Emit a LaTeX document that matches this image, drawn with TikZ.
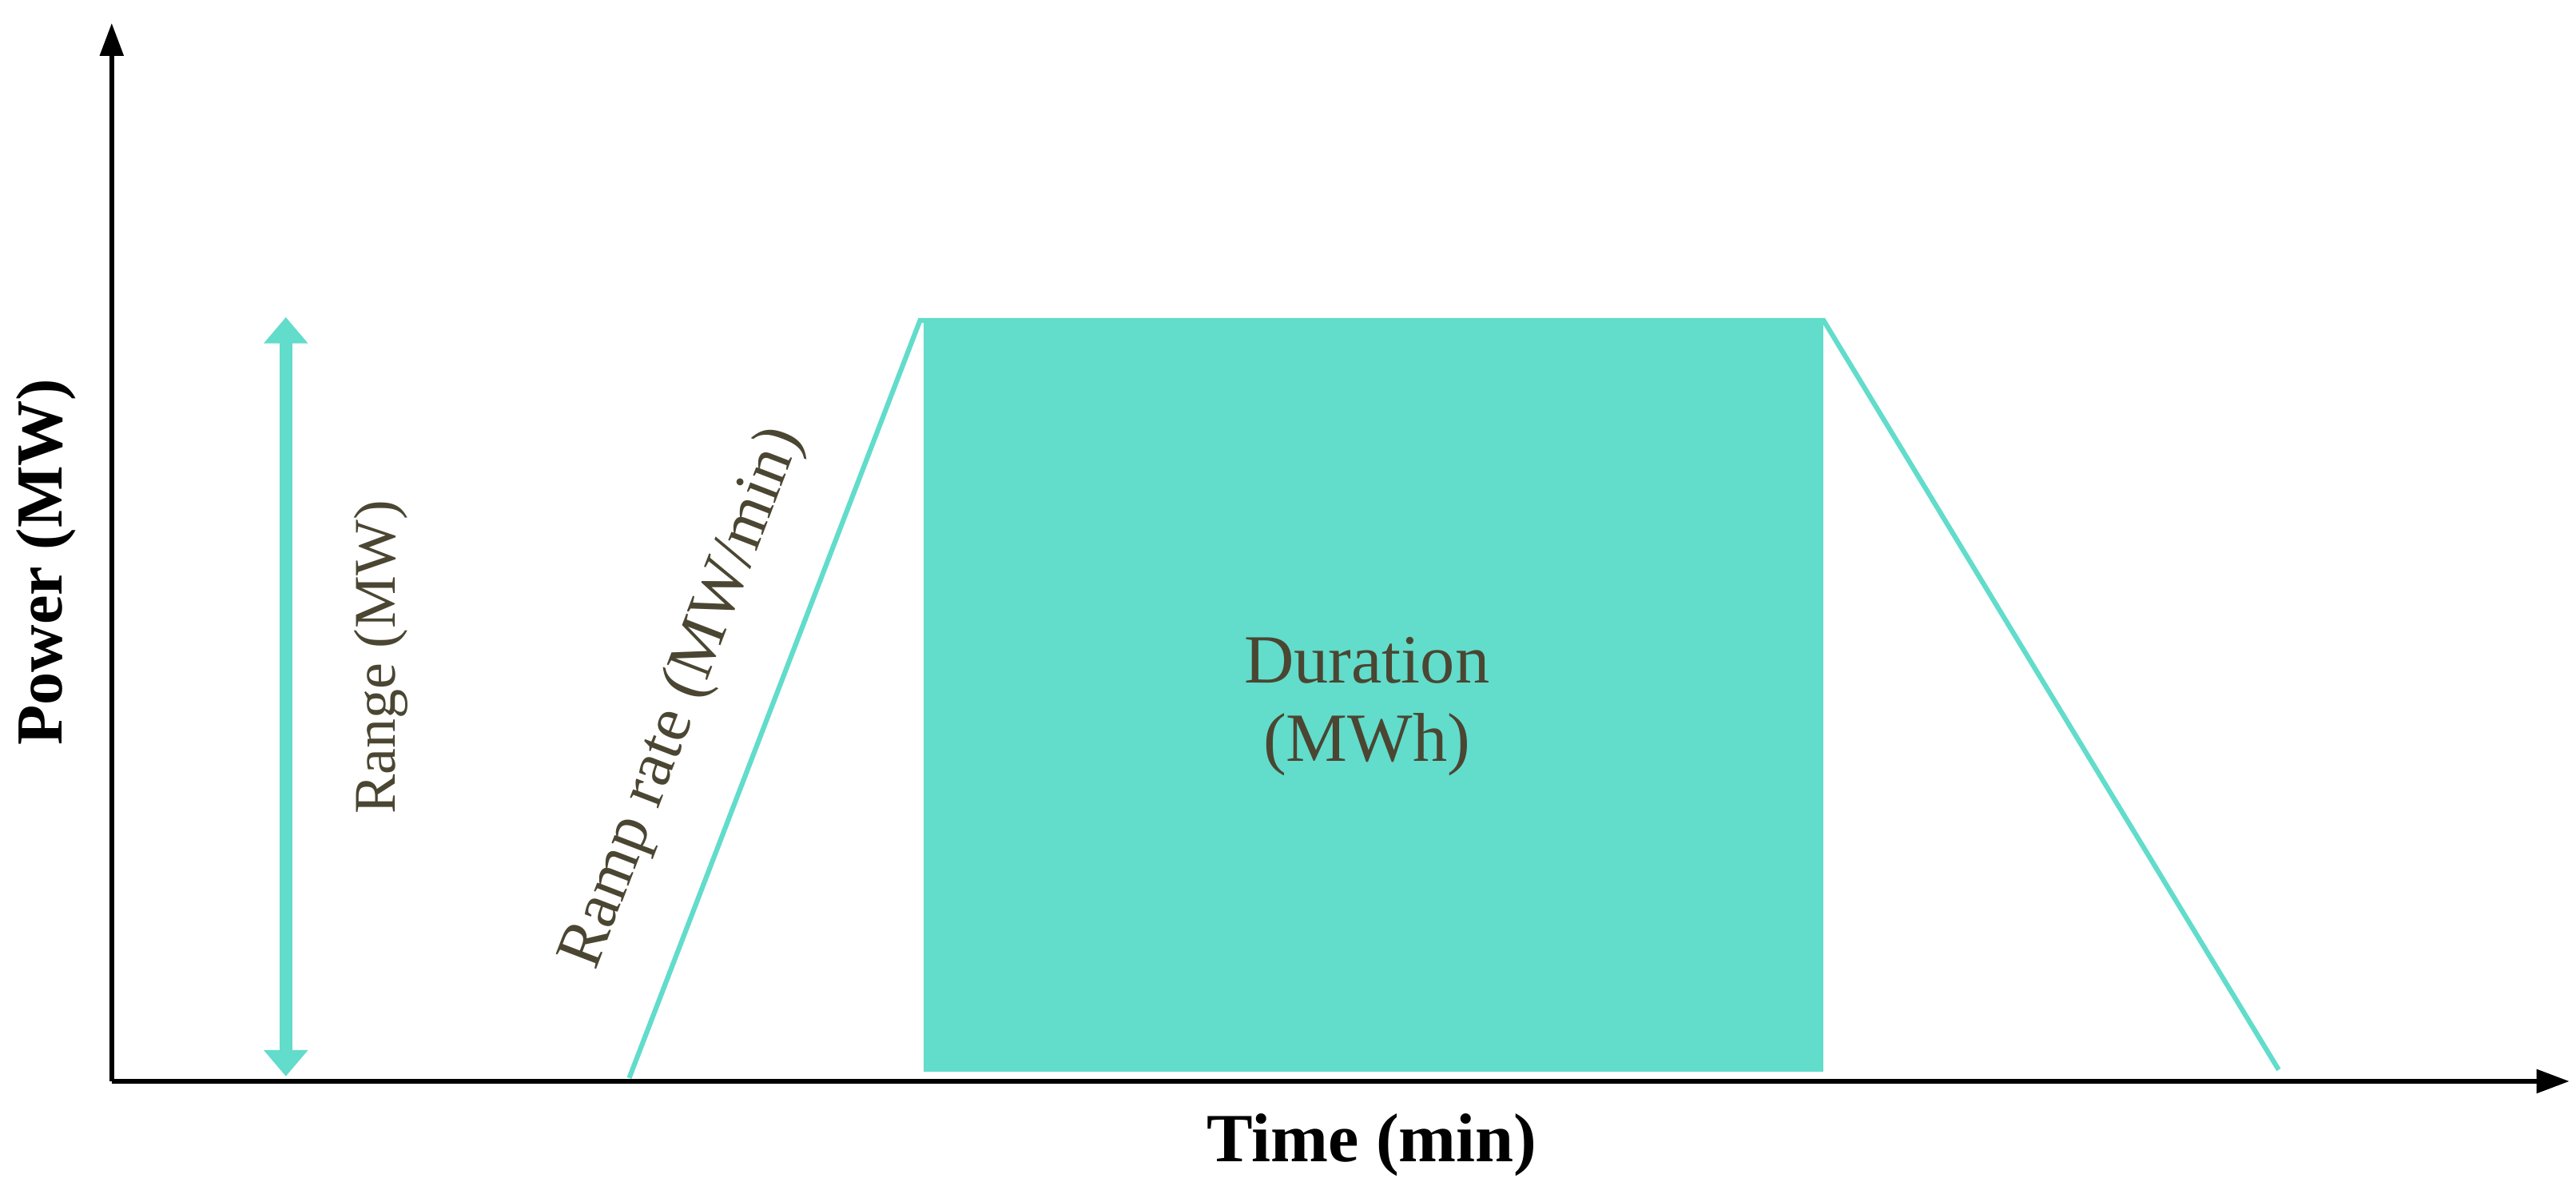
\documentclass[tikz,border=0pt]{standalone}
\usepackage{fontspec}
\setmainfont{Liberation Serif}
\usetikzlibrary{arrows.meta}
\definecolor{teal1}{HTML}{62DCCB}
\definecolor{lab}{HTML}{4A4632}
\begin{document}
\begin{tikzpicture}[x=1pt,y=-1pt,
  lbl/.style={text=lab,inner sep=0pt},
  ax/.style={line width=3pt,-{Triangle[length=20pt,width=14pt]}}]
\useasboundingbox (0,0) rectangle (1568,729);
\coordinate (o) at (68,658);
\coordinate (ytop) at (68,14);
\coordinate (xend) at (1564,658);
\draw[ax] (o) -- (ytop);
\draw[ax] (o) -- (xend);
\coordinate (rb) at (174,655);
\coordinate (rt) at (174,193);
\draw[teal1,line width=8pt,{Triangle[length=16pt,width=26pt]}-{Triangle[length=16pt,width=26pt]}] (rb) -- (rt);
\fill[teal1] (562,195) rectangle (1110,652);
\coordinate (a1) at (383,656);
\coordinate (a2) at (560,195);
\coordinate (b1) at (1110,195);
\coordinate (b2) at (1387,651);
\draw[teal1,line width=3pt] (a1) -- (a2) -- (b1) -- (b2);
\node[rotate=90,font=\bfseries\fontsize{40}{46}\selectfont] (py) at (28,342) {Power (MW)};
\node[font=\bfseries\fontsize{42}{48}\selectfont] (tx) at (835,697) {Time (min)};
\node[lbl,rotate=90,font=\fontsize{36}{42}\selectfont] (rg) at (232,400) {Range (MW)};
\node[lbl,rotate=69,font=\fontsize{40}{46}\selectfont] (rr) at (416,425) {Ramp rate (MW/min)};
\node[lbl,align=center,font=\fontsize{42}{48}\selectfont] (du) at (832,430) {Duration\\(MWh)};
\end{tikzpicture}
\end{document}
